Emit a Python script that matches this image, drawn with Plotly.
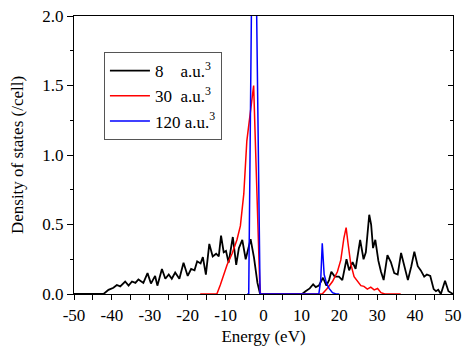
import plotly.graph_objects as go

# ---- data ----
e_8 = [-50, -42.2, -40.9, -39.6, -38.7, -37.8, -36.5, -35.6, -34.7, -33.8, -33.0, -31.7,
       -30.6, -29.7, -28.6, -28.0, -26.8, -25.9, -25.0, -24.2, -23.3, -22.2, -21.1, -20.0,
       -19.1, -18.2, -17.5, -16.6, -16.0, -15.2, -14.3, -13.4, -12.5, -11.8, -11.2, -10.5,
       -9.9, -9.2, -8.1, -7.2, -6.5, -5.6, -4.7, -3.4, -2.5, -1.6, -0.9, 10.2, 11.1, 12.2,
       13.1, 13.8, 14.6, 15.7, 16.6, 17.3, 17.9, 18.8, 19.9, 20.8, 21.9, 22.6, 23.5, 24.3,
       25.5, 26.4, 27.0, 27.9, 28.4, 28.9, 29.5, 30.3, 31.0, 31.7, 32.7, 33.6, 34.5, 35.4,
       36.3, 37.2, 38.1, 39.0, 39.8, 40.7, 41.5, 42.4, 43.1, 44.0, 44.9, 45.5, 46.1, 46.8,
       47.9, 48.8, 49.5, 50]
dos_8 = [0, 0, 0.03, 0.045, 0.065, 0.055, 0.09, 0.06, 0.09, 0.08, 0.105, 0.08,
         0.15, 0.075, 0.13, 0.06, 0.18, 0.11, 0.14, 0.11, 0.155, 0.11, 0.225, 0.13,
         0.18, 0.17, 0.235, 0.22, 0.265, 0.14, 0.36, 0.27, 0.29, 0.27, 0.42, 0.30,
         0.31, 0.225, 0.41, 0.21, 0.33, 0.39, 0.25, 0.395, 0.26, 0.08, 0, 0, 0.02, 0.04,
         0.07, 0.05, 0.06, 0.117, 0.06, 0.10, 0.16, 0.125, 0.125, 0.10, 0.25, 0.17, 0.23, 0.18,
         0.39, 0.25, 0.30, 0.57, 0.50, 0.33, 0.39, 0.24, 0.16, 0.10, 0.28, 0.23, 0.15, 0.14,
         0.295, 0.20, 0.10, 0.20, 0.305, 0.20, 0.17, 0.125, 0.14, 0.13, 0.035, 0.02, 0.03, 0.0,
         0.095, 0.02, 0.005, 0]

e_30 = [-16.7, -12.3, -11.4, -10.5, -9.6, -8.3, -7.0, -6.1, -5.2, -4.4, -3.9, -3.0, -2.6,
        -2.1, -1.7, -1.0, -0.8, 0, 5, 10, 15.5, 16.8, 18.2, 19.5, 20.4, 21.2, 21.8, 22.3,
        23.0, 23.9, 24.8, 25.7, 26.5, 27.4, 28.3, 29.2, 30.1, 31.0, 32.0, 36.2]
dos_30 = [0, 0, 0.065, 0.14, 0.21, 0.29, 0.39, 0.49, 0.72, 1.10, 1.22, 1.39, 1.50,
          1.05, 0.66, 0.08, 0, 0, 0, 0, 0, 0.04, 0.09, 0.16, 0.245, 0.40, 0.477, 0.365,
          0.22, 0.125, 0.09, 0.06, 0.055, 0.035, 0.05, 0.03, 0.04, 0.01, 0, 0]

e_120 = [-4.3, -3.9, -3.55, -3.2, -2.5, -1.8, -1.35, -0.9, 0, 5, 10, 14.0, 14.6, 15.1,
         15.5, 16.0, 16.6, 17.3, 18.2, 19.1, 20.0]
dos_120 = [0, 0, 1.0, 2.0, 4.0, 2.0, 1.0, 0, 0, 0, 0, 0, 0.0, 0.1,
           0.365, 0.14, 0.08, 0.04, 0.01, 0, 0]

names = ["8\u00a0\u00a0\u00a0\u00a0a.u.<sup>3</sup>",
         "30\u00a0\u00a0a.u.<sup>3</sup>",
         "120\u00a0a.u.<sup>3</sup>"]
colors = ["#000000", "#ff0000", "#0000ff"]

x_ticks = [-50, -40, -30, -20, -10, 0, 10, 20, 30, 40, 50]
y_ticks = [0.0, 0.5, 1.0, 1.5, 2.0]

FONT = "Liberation Serif"

fig = go.Figure()
for xs, ys, nm, c, w in [(e_8, dos_8, names[0], colors[0], 1.8),
                         (e_30, dos_30, names[1], colors[1], 1.5),
                         (e_120, dos_120, names[2], colors[2], 1.5)]:
    fig.add_trace(go.Scatter(x=xs, y=ys, mode="lines", name=nm,
                             line=dict(color=c, width=w)))
# empty trace to activate the right-hand (inside-tick) axis
fig.add_trace(go.Scatter(x=[], y=[], yaxis="y2", showlegend=False, hoverinfo="skip"))

# page body has an 8px margin: figure is 466x347 placed at (8, 8)
fig.update_layout(
    width=466, height=347,
    margin=dict(l=66, r=21, t=8, b=61, autoexpand=False),
    paper_bgcolor="white", plot_bgcolor="white",
    font=dict(family=FONT, size=16, color="black"),
    showlegend=True,
    legend=dict(x=0.079, y=0.87, xanchor="left", yanchor="top",
                bordercolor="#555555", borderwidth=1, bgcolor="white",
                font=dict(family=FONT, size=17, color="black"),
                itemwidth=40, tracegroupgap=0),
    xaxis=dict(range=[-50, 50], tickvals=x_ticks, ticktext=[str(v) for v in x_ticks],
               ticks="outside", ticklen=5, tickwidth=1, tickcolor="black",
               minor=dict(dtick=5, ticks="outside", ticklen=5, tickwidth=1, tickcolor="black"),
               showline=True, linecolor="black", linewidth=1.3, mirror=True,
               showgrid=False, zeroline=False, automargin=False, ticklabeloverflow="allow",
               title=dict(text="Energy (eV)", font=dict(family=FONT, size=17, color="black"), standoff=6),
               tickfont=dict(family=FONT, size=17, color="black")),
    yaxis=dict(range=[0, 2.0], tickvals=y_ticks, ticktext=["%.1f" % v for v in y_ticks],
               ticks="outside", ticklen=6, tickwidth=1, tickcolor="black",
               minor=dict(dtick=0.25, ticks="outside", ticklen=3, tickwidth=1, tickcolor="black"),
               showline=True, linecolor="black", linewidth=1.3, mirror=True,
               showgrid=False, zeroline=False, automargin=False, ticklabeloverflow="allow",
               title=dict(text="Density of states (/cell)", font=dict(family=FONT, size=17, color="black"), standoff=19),
               tickfont=dict(family=FONT, size=17, color="black")),
    yaxis2=dict(range=[0, 2.0], overlaying="y", side="right", tickvals=y_ticks,
                showticklabels=False, ticks="inside", ticklen=5, tickwidth=1, tickcolor="black",
                minor=dict(dtick=0.25, ticks="inside", ticklen=3, tickwidth=1, tickcolor="black"),
                showline=False, showgrid=False, zeroline=False, automargin=False),
)

fig.write_html("out.html")
